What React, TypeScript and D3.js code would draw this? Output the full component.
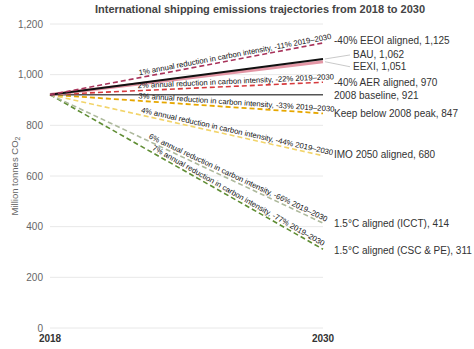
import React from "react";
import * as d3 from "d3";

const W = 474;
const H = 349;

const years = [2018, 2030];
const yTicks = [0, 200, 400, 600, 800, 1000, 1200];

const scenarioNames = [
  "-40% EEOI aligned",
  "BAU",
  "EEXI",
  "-40% AER aligned",
  "2008 baseline",
  "Keep below 2008 peak",
  "IMO 2050 aligned",
  "1.5°C aligned (ICCT)",
  "1.5°C aligned (CSC & PE)",
];
const values2018 = [921, 921, 921, 921, 921, 921, 921, 921, 921];
const values2030 = [1125, 1062, 1051, 970, 921, 847, 680, 414, 311];

const intensityNotes = [
  "1% annual reduction in carbon intensity, -11% 2019–2030",
  "",
  "",
  "2% annual reduction in carbon intensity, -22% 2019–2030",
  "",
  "3% annual reduction in carbon intensity, -33% 2019–2030",
  "4% annual reduction in carbon intensity, -44% 2019–2030",
  "6% annual reduction in carbon intensity, -66% 2019–2030",
  "7% annual reduction in carbon intensity, -77% 2019–2030",
];

type Style = { color: string; width: number; dash?: string; labelDy: number; connector?: boolean };
const styles: Style[] = [
  { color: "#a8335a", width: 1.6, dash: "5,3", labelDy: -3 },
  { color: "#111111", width: 2, labelDy: -4, connector: true },
  { color: "#e497a6", width: 3.2, labelDy: 5, connector: true },
  { color: "#d63a3d", width: 1.6, dash: "5,3", labelDy: 0 },
  { color: "#555555", width: 1.5, labelDy: 1 },
  { color: "#e6a700", width: 1.8, dash: "5,3", labelDy: 0 },
  { color: "#f2d46a", width: 1.6, dash: "5,3", labelDy: -1 },
  { color: "#adb99c", width: 1.6, dash: "5,3", labelDy: 0 },
  { color: "#5f8d33", width: 1.6, dash: "5,3", labelDy: 1 },
];

// order in which lines are painted (EEXI sits under BAU)
const drawOrder = [8, 7, 6, 5, 4, 3, 2, 1, 0];

const fmt = d3.format(",");

export default function App() {
  const x = d3.scaleLinear().domain([2018, 2030]).range([50, 323]);
  const y = d3.scaleLinear().domain([0, 1200]).range([328, 24]);
  const line = d3
    .line<[number, number]>()
    .x((d) => x(d[0]))
    .y((d) => y(d[1]));

  const font = "Arial, 'Liberation Sans', Helvetica, sans-serif";

  return (
    <svg
      width={W}
      height={H}
      style={{ position: "fixed", left: 0, top: 0, background: "#fff" }}
      fontFamily={font}
    >
      <text
        x={260}
        y={13}
        textAnchor="middle"
        fontSize={11}
        fontWeight="bold"
        fill="#444"
      >
        International shipping emissions trajectories from 2018 to 2030
      </text>

      {yTicks.map((t) => (
        <g key={t}>
          <line x1={x(2018)} x2={x(2030)} y1={y(t)} y2={y(t)} stroke="#e8e8e8" strokeWidth={1} />
          <text x={43} y={y(t)} dy="0.35em" textAnchor="end" fontSize={10} fill="#666">
            {fmt(t)}
          </text>
        </g>
      ))}

      <text
        transform={`translate(18,${y(600)}) rotate(-90)`}
        textAnchor="middle"
        fontSize={9.5}
        fill="#666"
      >
        Million tonnes CO<tspan fontSize={7} dy={2}>2</tspan>
      </text>

      {years.map((yr) => (
        <text key={yr} x={x(yr)} y={342} textAnchor="middle" fontSize={10} fontWeight="bold" fill="#333">
          {yr}
        </text>
      ))}

      {drawOrder.map((i) => {
        const s = styles[i];
        const pts: [number, number][] = [
          [years[0], values2018[i]],
          [years[1], values2030[i]],
        ];
        return (
          <path
            key={i}
            d={line(pts) || ""}
            fill="none"
            stroke={s.color}
            strokeWidth={s.width}
            strokeDasharray={s.dash}
          />
        );
      })}

      {intensityNotes.map((note, i) => {
        if (!note) return null;
        const x0 = x(years[0]);
        const y0 = y(values2018[i]);
        const x1 = x(years[1]);
        const y1 = y(values2030[i]);
        const ang = (Math.atan2(y1 - y0, x1 - x0) * 180) / Math.PI;
        const cx = 236;
        const t = (cx - x0) / (x1 - x0);
        const cy = y0 + t * (y1 - y0);
        return (
          <text
            key={i}
            transform={`translate(${cx},${cy}) rotate(${ang})`}
            y={-2.5}
            textAnchor="middle"
            fontSize={7.7}
            fill="#111"
          >
            {note}
          </text>
        );
      })}

      {scenarioNames.map((name, i) => {
        const s = styles[i];
        const ly = y(values2030[i]) + s.labelDy;
        const lx = s.connector ? 353 : 334;
        return (
          <g key={name}>
            {s.connector && (
              <line
                x1={x(2030) + 2}
                y1={y(values2030[i])}
                x2={lx - 3}
                y2={ly}
                stroke="#bbb"
                strokeWidth={0.8}
              />
            )}
            <text x={lx} y={ly} dy="0.35em" fontSize={10} fill="#333">
              {`${name}, ${fmt(values2030[i])}`}
            </text>
          </g>
        );
      })}
    </svg>
  );
}
